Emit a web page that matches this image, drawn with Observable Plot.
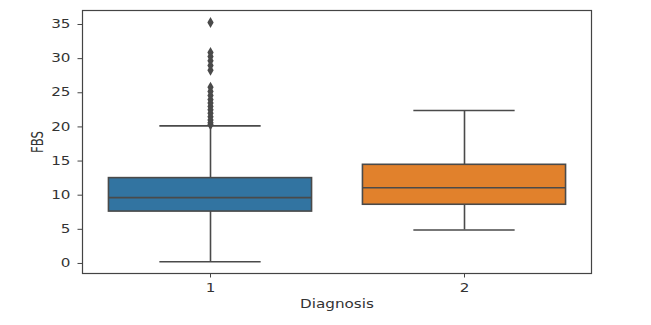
<!DOCTYPE html>
<html>
<head>
<meta charset="utf-8">
<script src="https://cdn.jsdelivr.net/npm/d3@7"></script>
<script src="https://cdn.jsdelivr.net/npm/@observablehq/plot@0.6"></script>
<style>
  html, body { margin: 0; padding: 0; background: #fff; }
</style>
</head>
<body>
<div id="chart"></div>
<script>
const categories = ["1", "2"];
const colors = ["#3274a1", "#e1812c"];
const q1 = [7.6, 8.6];
const median = [9.65, 11.1];
const q3 = [12.5, 14.45];
const whiskerLow = [0.25, 4.9];
const whiskerHigh = [20.15, 22.4];
const outliers1 = [35.3, 30.9, 30.3, 29.7, 29.0, 28.3, 25.8, 25.2, 24.6, 24.0, 23.5, 23.0, 22.5, 22.0, 21.5, 21.0, 20.6, 20.3];
const outliers2 = [];
const yTicks = [0, 5, 10, 15, 20, 25, 30, 35];

const stats = categories.map((c, i) => ({
  cat: c, color: colors[i], q1: q1[i], med: median[i], q3: q3[i],
  lo: whiskerLow[i], hi: whiskerHigh[i]
}));
const fliers = [
  ...outliers1.map(v => ({cat: categories[0], v})),
  ...outliers2.map(v => ({cat: categories[1], v}))
];

const edge = "#4a4a4a";
const W = 651, H = 325;
const mL = 82, mR = 60, mT = 10, mB = 52;
const band = (W - mL - mR) / categories.length;
const boxInset = band * 0.1;
const capInset = band * 0.3;

const chart = Plot.plot({
  width: W,
  height: H,
  marginLeft: mL,
  marginRight: mR,
  marginTop: mT,
  marginBottom: mB,
  style: { fontFamily: "DejaVu Sans", fontSize: "10px", color: "#333", background: "#fff" },
  x: { type: "band", domain: categories, padding: 0 },
  y: { domain: [-1.47, 37.05] },
  marks: [
    Plot.ruleX(stats, { x: "cat", y1: "lo", y2: "hi", stroke: edge, strokeWidth: 1.6 }),
    Plot.tickY(stats, { x: "cat", y: "lo", stroke: edge, strokeWidth: 1.6, insetLeft: capInset, insetRight: capInset }),
    Plot.tickY(stats, { x: "cat", y: "hi", stroke: edge, strokeWidth: 1.6, insetLeft: capInset, insetRight: capInset }),
    Plot.barY(stats, { x: "cat", y1: "q1", y2: "q3", fill: "color", stroke: edge, strokeWidth: 1.6, insetLeft: boxInset, insetRight: boxInset }),
    Plot.tickY(stats, { x: "cat", y: "med", stroke: edge, strokeWidth: 1.6, insetLeft: boxInset, insetRight: boxInset }),
    Plot.dot(fliers, { x: "cat", y: "v", symbol: "diamond", r: 3.3, fill: edge, stroke: "none" }),
    Plot.frame({ stroke: "#444", strokeWidth: 1.2 }),
    Plot.axisY({ ticks: yTicks, tickSize: 4.5, tickPadding: 7.5, label: "FBS", labelAnchor: "center", labelArrow: "none", labelOffset: 50, stroke: "#444", color: "#333" }),
    Plot.axisX({ tickSize: 4.5, tickPadding: 5.5, label: "Diagnosis", labelAnchor: "center", labelArrow: "none", labelOffset: 34, stroke: "#444", color: "#333" })
  ]
});

// The reference image is stretched (≈1.52 horizontally, 1.18 vertically): stretch the text the same way.
chart.querySelectorAll("text").forEach(t => {
  const x = parseFloat(t.getAttribute("x")) || 0;
  const y = parseFloat(t.getAttribute("y")) || 0;
  const tr = t.getAttribute("transform") || "";
  const rotated = /rotate/.test(tr);
  const sx = rotated ? 1.18 : 1.52, sy = rotated ? 1.52 : 1.18;
  t.setAttribute("transform", `${tr} translate(${x},${y}) scale(${sx},${sy}) translate(${-x},${-y})`);
});
document.getElementById("chart").appendChild(chart);
</script>
</body>
</html>
